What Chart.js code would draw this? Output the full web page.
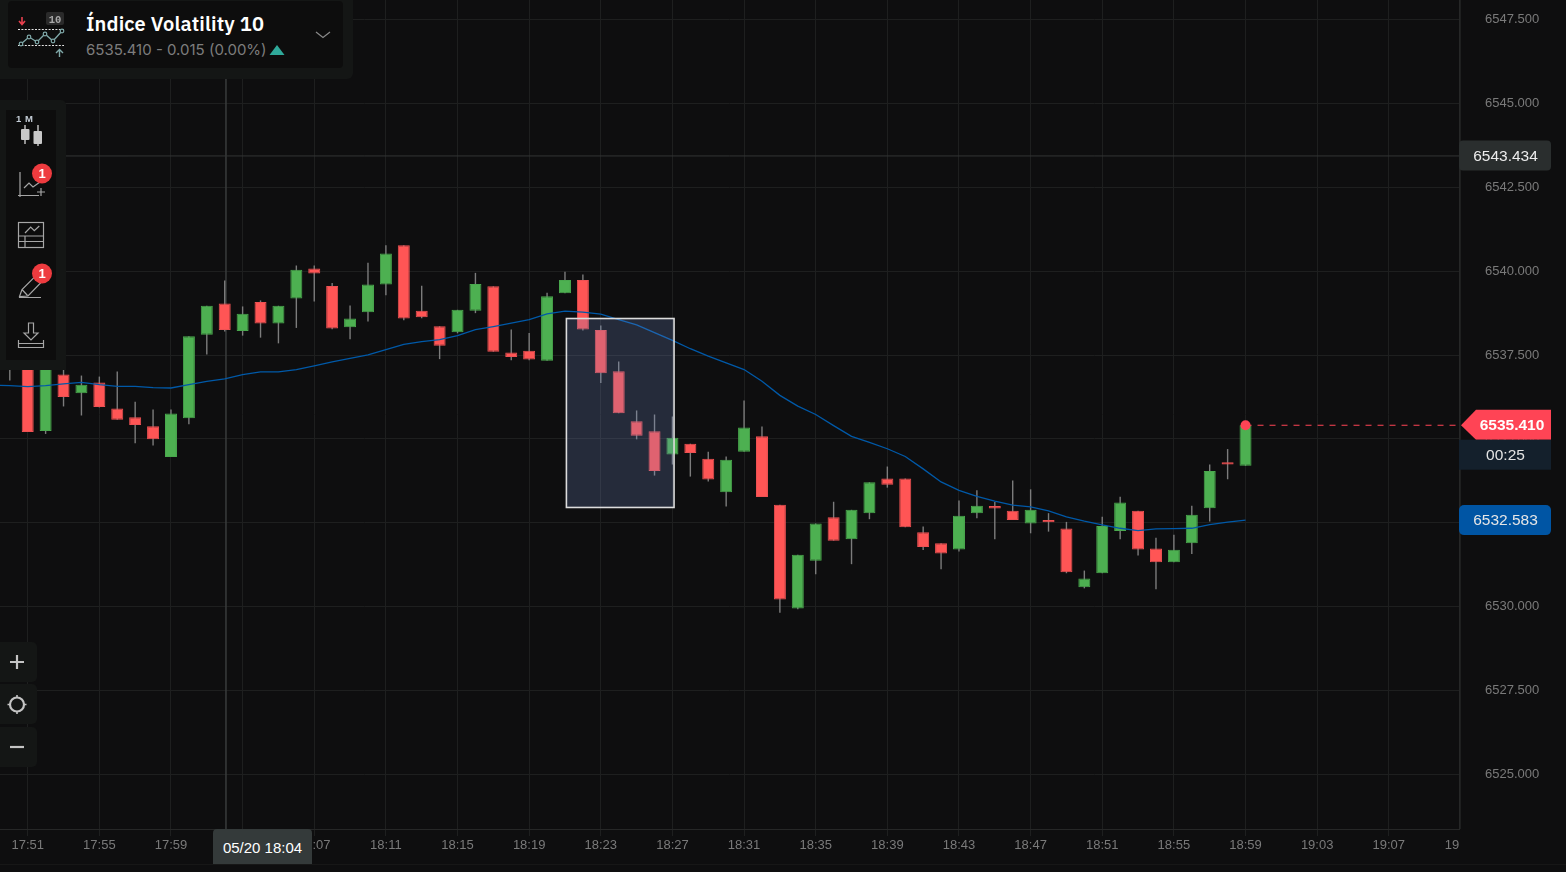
<!DOCTYPE html>
<html>
<head>
<meta charset="utf-8">
<title>Índice Volatility 10</title>
<script src="https://cdn.jsdelivr.net/npm/chart.js@4"></script>
<style>
  html, body { margin: 0; padding: 0; background: #0e0e0f; width: 1566px; height: 872px; overflow: hidden; }
  canvas { position: absolute; left: 0; top: 0; }
  .panel { position: absolute; background: #141615; }
  .inner { position: absolute; background: #0d0d0d; }
  .btn { position: absolute; left: 0; width: 37px; height: 40px; background: #141615; border-radius: 0 5px 5px 0; }
  #title { position: absolute; left: 86px; top: 10px; font: 600 20px "IBM Plex Sans", Roboto, sans-serif; letter-spacing: 0.15px; color: #fff; white-space: nowrap; }
  #sub { position: absolute; left: 86px; top: 40px; font: 400 15px Inter, sans-serif; color: #7d7d7d; white-space: nowrap; }
  #timeTag { position: absolute; left: 213px; top: 829px; width: 99px; height: 35px; background: #343a3a; border-radius: 4px 4px 0 0;
    font: 15px "Liberation Sans", sans-serif; color: #fff; text-align: center; line-height: 38px; }
  #footLine { position: absolute; left: 0; top: 864px; width: 1566px; height: 1px; background: #171717; }
  svg { position: absolute; left: 0; top: 0; }
</style>
</head>
<body>
<canvas id="volChart" width="1566" height="872"></canvas>
<div id="footLine"></div>
<div id="timeTag">05/20 18:04</div>

<div class="panel" style="left:0;top:0;width:353px;height:79px;border-radius:0 0 6px 0"></div>
<div class="inner" style="left:8px;top:1px;width:335px;height:67px;border-radius:4px"></div>
<div id="title">Índice Volatility 10</div>
<div id="sub">6535.410 - 0.015 (0.00%)</div>

<div class="panel" style="left:0;top:100px;width:66px;height:270px;border-radius:0 5px 0 0"></div>
<div class="inner" style="left:6px;top:110px;width:50px;height:250px"></div>

<div class="btn" style="top:642px"></div>
<div class="btn" style="top:684px"></div>
<div class="btn" style="top:727px"></div>

<svg width="1566" height="872" fill="none">
  <!-- header icon -->
  <path d="M22 17v7M19 21l3 3.5 3-3.5" stroke="#e8404e" stroke-width="1.6"/>
  <rect x="46" y="12" width="18" height="13" rx="2" fill="#2a2a2a"/>
  <text x="55" y="22.5" font-family="Liberation Mono, monospace" font-size="10.5" font-weight="700" fill="#a8a8a8" text-anchor="middle">10</text>
  <path d="M18 29.5h46M18 45.5h46" stroke="#e4e4e4" stroke-width="1" stroke-dasharray="2 1.4"/>
  <path d="M21 44l8-7 8 5 8-8 8 7 9-10" stroke="#7fa8a8" stroke-width="1.3"/>
  <g fill="#0d0d0d" stroke="#7fa8a8" stroke-width="1.2">
    <circle cx="21" cy="44" r="1.8"/><circle cx="29" cy="37" r="1.8"/><circle cx="37" cy="42" r="1.8"/>
    <circle cx="45" cy="34" r="1.8"/><circle cx="53" cy="41" r="1.8"/><circle cx="62" cy="31" r="1.8"/>
  </g>
  <path d="M59.5 57v-7M56 53l3.5-3.5 3.5 3.5" stroke="#7fa8a8" stroke-width="1.4"/>
  <path d="M269.500 55l7.500-10 7.500 10z" fill="#2fa99a"/>
  <path d="M316 32l7 5.500 7-5.500" stroke="#8a8a8a" stroke-width="1.2"/>

  <!-- toolbar icons -->
  <text x="16" y="121.500" font-family="Liberation Sans, sans-serif" font-size="9.500" font-weight="700" letter-spacing="0.6" fill="#c4cdd6">1 M</text>
  <path d="M25 125v19M38 125v21" stroke="#bdbdbd" stroke-width="1.5"/>
  <rect x="21" y="129" width="8.500" height="11" rx="1" fill="#c8c8c8"/>
  <rect x="33.500" y="131" width="8.500" height="13" rx="1" fill="#c8c8c8"/>

  <g stroke="#a6a6a6" stroke-width="1.2">
    <path d="M20 172v25M18 195.500h21M24 188l5-5 4 4 7-5M41 188v8M37 192h8"/>
    <rect x="18.500" y="222.500" width="25" height="25"/>
    <path d="M18.500 236h25M18.500 241.500h25M25 236v11.500M25 233l5.700-6 3.600 3.700 5-4.700"/>
    <path d="M19 297.500h22M19.500 296.500l2.500-7 15-15 6 6-15 15.500zM22 289.500l5.500 6"/>
    <path d="M28.500 323h5v10h4.500l-7 7-7-7h4.500zM18.500 340v7.500h25v-7.500M18.500 343.500h25"/>
  </g>
  <circle cx="42" cy="173.500" r="10" fill="#ee3b3f"/>
  <circle cx="42" cy="273.500" r="10" fill="#ee3b3f"/>
  <text x="42" y="178" font-family="Liberation Sans, sans-serif" font-size="13" font-weight="700" fill="#fff" text-anchor="middle">1</text>
  <text x="42" y="278" font-family="Liberation Sans, sans-serif" font-size="13" font-weight="700" fill="#fff" text-anchor="middle">1</text>

  <!-- zoom buttons -->
  <path d="M10 662h14M17 655v14" stroke="#c4c4c4" stroke-width="2.200"/>
  <circle cx="17" cy="704.500" r="7" stroke="#c4c4c4" stroke-width="2.200"/>
  <path d="M17 695v3M17 711v3M7.500 704.500h3M23.500 704.500h3" stroke="#c4c4c4" stroke-width="1.600"/>
  <path d="M10 747h14" stroke="#c4c4c4" stroke-width="2.200"/>
</svg>

<script>
// minutes counted from 17:50, one candle per minute
const opens = [6537.79,6537.58,6535.24,6536.92,6536.36,6536.68,6535.91,6535.65,6535.38,6534.46,6535.62,6538.11,6539.04,6538.22,6539.08,6538.44,6539.19,6540.08,6539.56,6538.33,6538.78,6539.60,6540.77,6538.82,6538.36,6538.18,6538.82,6539.55,6537.58,6537.63,6537.33,6539.34,6539.74,6538.25,6537.02,6535.53,6535.23,6534.54,6534.86,6534.41,6533.41,6534.62,6535.08,6533.04,6529.95,6531.37,6532.67,6532.01,6532.79,6533.82,6533.82,6532.22,6531.89,6531.71,6532.79,6533.00,6532.86,6532.48,6532.59,6532.33,6530.58,6531.00,6532.26,6532.86,6531.74,6531.33,6531.89,6532.94,6534.31,6534.20];
const highs = [6537.94,6537.64,6537.40,6537.10,6536.89,6536.86,6537.01,6536.11,6535.88,6535.88,6538.06,6538.97,6539.72,6538.95,6539.13,6538.97,6540.17,6540.17,6539.65,6538.98,6540.25,6540.77,6540.77,6539.57,6538.36,6538.85,6539.95,6539.55,6538.26,6538.16,6539.36,6539.98,6539.90,6538.38,6537.31,6535.85,6535.73,6535.67,6534.86,6534.62,6534.48,6536.15,6535.37,6533.04,6531.55,6532.48,6533.13,6532.89,6533.71,6534.18,6533.82,6532.39,6531.89,6533.17,6533.47,6533.12,6533.76,6533.50,6532.79,6532.53,6531.08,6532.68,6533.28,6532.86,6532.06,6532.15,6533.01,6534.24,6534.70,6535.41];
const lows = [6536.74,6535.21,6535.15,6535.97,6535.70,6535.94,6535.57,6534.87,6534.81,6534.46,6535.44,6537.52,6538.20,6538.08,6538.02,6537.85,6538.31,6539.10,6538.27,6537.97,6538.50,6539.28,6538.54,6538.60,6537.38,6538.15,6538.75,6537.60,6537.35,6537.35,6537.33,6539.34,6538.23,6536.67,6535.77,6534.99,6533.91,6534.24,6533.88,6533.73,6532.99,6534.62,6533.27,6529.82,6529.93,6530.97,6531.97,6531.27,6532.61,6533.55,6532.37,6531.69,6531.12,6531.65,6532.64,6532.01,6532.59,6532.19,6532.24,6531.00,6530.55,6531.00,6532.01,6531.53,6530.52,6531.33,6531.57,6532.54,6533.80,6534.20];
const closes = [6537.28,6535.21,6537.28,6536.25,6536.62,6535.95,6535.57,6535.42,6534.99,6535.76,6538.06,6538.97,6538.25,6538.73,6538.44,6538.97,6540.04,6539.93,6538.29,6538.59,6539.60,6540.53,6538.59,6538.63,6537.78,6538.85,6539.62,6537.60,6537.44,6537.37,6539.25,6539.74,6538.26,6536.96,6535.77,6535.10,6534.05,6535.04,6534.58,6533.79,6534.38,6535.34,6533.27,6530.22,6531.55,6532.48,6531.97,6532.89,6533.71,6533.64,6532.37,6531.78,6531.59,6532.71,6533.01,6532.93,6532.59,6532.89,6532.52,6531.03,6530.84,6532.41,6533.11,6531.71,6531.33,6531.70,6532.74,6534.05,6534.24,6535.41];
const maValues = [6536.59,6536.56,6536.59,6536.64,6536.69,6536.62,6536.57,6536.57,6536.53,6536.52,6536.62,6536.72,6536.79,6536.92,6537.00,6537.00,6537.07,6537.18,6537.30,6537.40,6537.51,6537.66,6537.82,6537.90,6537.96,6538.08,6538.26,6538.35,6538.45,6538.56,6538.73,6538.81,6538.78,6538.72,6538.56,6538.40,6538.17,6537.94,6537.69,6537.47,6537.27,6537.07,6536.72,6536.30,6535.98,6535.73,6535.40,6535.08,6534.90,6534.71,6534.48,6534.11,6533.72,6533.47,6533.29,6533.15,6533.03,6532.98,6532.86,6532.68,6532.55,6532.44,6532.34,6532.27,6532.32,6532.33,6532.34,6532.45,6532.52,6532.583];
// the average at 17:49, just off the left edge
const maBefore = 6536.60;

const tickLabels = ["17:51","17:55","17:59","18:03","18:07","18:11","18:15","18:19","18:23","18:27","18:31","18:35","18:39","18:43","18:47","18:51","18:55","18:59","19:03","19:07","19:11"];
const tickIndex = [1,5,9,13,17,21,25,29,33,37,41,45,49,53,57,61,65,69,73,77,81];
const yTicks = [6525,6527.5,6530,6532.5,6535,6537.5,6540,6542.5,6545,6547.5];

const xMin = -0.547, xMax = 80.92;
const yMin = 6523.379, yMax = 6548.081;

const lastPrice = 6535.410;
const maLast = 6532.583;
const crossPrice = 6543.434;
const crossIndex = 12.07;
const boxX = [31.08, 37.09];
const boxY = [6532.96, 6538.59];

const green = "#4db051", red = "#ff5555";
const isUp = i => closes[i] >= opens[i];

const wicks = highs.map((h, i) => ({ x: i, y: [lows[i], h] }));
const bodies = opens.map((o, i) => ({ x: i, y: [o, closes[i]] }));
const maLine = [{ x: -1, y: maBefore }].concat(maValues.map((v, i) => ({ x: i, y: v })));

// covers the end of the 19:11 label and draws the box and the price tags
const overlays = {
  id: "overlays",
  beforeDatasetsDraw(chart) {
    const c = chart.ctx;
    c.fillStyle = "#0e0e0f";
    c.fillRect(chart.chartArea.right + 0.5, chart.chartArea.bottom + 1, 120, 34);
  },
  afterDatasetsDraw(chart) {
    const c = chart.ctx, x = chart.scales.x, y = chart.scales.y;
    const l = x.getPixelForValue(boxX[0]), r = x.getPixelForValue(boxX[1]);
    const t = y.getPixelForValue(boxY[1]), b = y.getPixelForValue(boxY[0]);
    c.save();
    c.fillStyle = "rgba(118,143,205,0.23)";
    c.fillRect(l, t, r - l, b - t);
    c.strokeStyle = "#dcdcdc";
    c.lineWidth = 1.6;
    c.strokeRect(l, t, r - l, b - t);
    c.restore();
  },
  afterDraw(chart) {
    const c = chart.ctx, y = chart.scales.y, left = chart.chartArea.right, right = 1551;
    const lastY = y.getPixelForValue(lastPrice);
    c.save();
    c.textAlign = "center";
    c.textBaseline = "middle";

    c.fillStyle = "#2a2e2e";
    c.beginPath();
    c.roundRect(left, y.getPixelForValue(crossPrice) - 15.5, right - left, 30, 4);
    c.fill();
    c.fillStyle = "#ececec";
    c.font = "15.5px 'Liberation Sans', sans-serif";
    c.fillText(crossPrice.toFixed(3), 1505.5, y.getPixelForValue(crossPrice) + 0.5);

    c.fillStyle = "#ff4455";
    c.beginPath();
    c.moveTo(1461, lastY);
    c.lineTo(1476, lastY - 15.5);
    c.lineTo(right, lastY - 15.5);
    c.lineTo(right, lastY + 14.5);
    c.lineTo(1476, lastY + 14.5);
    c.closePath();
    c.fill();
    c.fillStyle = "#fff";
    c.font = "bold 15.5px 'Liberation Sans', sans-serif";
    c.fillText(lastPrice.toFixed(3), 1512, lastY + 0.5);

    c.fillStyle = "#14202c";
    c.fillRect(left, lastY + 14.5, right - left, 30);
    c.fillStyle = "#e4e4e4";
    c.font = "15.5px 'Liberation Sans', sans-serif";
    c.fillText("00:25", 1505.5, lastY + 30);

    const maY = y.getPixelForValue(maLast);
    c.fillStyle = "#0055a4";
    c.beginPath();
    c.roundRect(left, maY - 15, right - left, 30, 5);
    c.fill();
    c.fillStyle = "#e6e6e6";
    c.fillText(maLast.toFixed(3), 1505.5, maY + 0.5);
    c.restore();
  }
};

new Chart(document.getElementById("volChart"), {
  type: "bar",
  data: {
    datasets: [
      {
        type: "line", order: 5, data: [{ x: xMin, y: crossPrice }, { x: xMax, y: crossPrice }],
        borderColor: "#333535", borderWidth: 1, pointRadius: 0
      },
      {
        type: "line", order: 5, data: [{ x: crossIndex, y: yMin }, { x: crossIndex, y: yMax }],
        borderColor: "#393c3c", borderWidth: 1.5, pointRadius: 0
      },
      {
        order: 4, data: wicks, grouped: false, maxBarThickness: 1.4,
        backgroundColor: "#7c7c7c", borderWidth: 0, borderSkipped: false
      },
      {
        order: 3, data: bodies, grouped: false, maxBarThickness: 12,
        backgroundColor: ctx => isUp(ctx.dataIndex) ? green : red,
        borderColor: ctx => isUp(ctx.dataIndex) ? "#49a84d" : "#ee5153",
        borderWidth: 1, borderSkipped: false
      },
      {
        type: "line", order: 2, data: maLine,
        borderColor: "#0059a8", borderWidth: 1.3, pointRadius: 0, tension: 0
      },
      {
        type: "line", order: 1, data: [{ x: 69, y: lastPrice }, { x: xMax, y: lastPrice }],
        borderColor: "#ff4455", borderWidth: 1.2, borderDash: [6, 6], pointRadius: [5, 0],
        pointBackgroundColor: "#ff4455", pointBorderWidth: 0
      }
    ]
  },
  options: {
    responsive: false,
    animation: false,
    devicePixelRatio: 1,
    events: [],
    layout: { padding: 0, autoPadding: false },
    plugins: { legend: { display: false }, tooltip: { enabled: false } },
    scales: {
      x: {
        type: "linear", min: xMin, max: xMax, offset: false,
        grid: { offset: false, color: "#1e1f1f", tickColor: "#1e1f1f", tickLength: 7, lineWidth: 1 },
        border: { color: "#262727" },
        afterBuildTicks: s => { s.ticks = tickIndex.map(v => ({ value: v })); },
        afterFit: s => { s.height = 43; s.paddingLeft = 0; s.paddingRight = 0; },
        ticks: {
          autoSkip: false, maxRotation: 0, padding: 2, color: "#7a7a7a",
          font: { family: "'Liberation Sans', sans-serif", size: 13 },
          callback: (v, i) => tickLabels[i]
        }
      },
      y: {
        type: "linear", position: "right", min: yMin, max: yMax,
        grid: { color: "#1e1f1f", drawTicks: false, lineWidth: 1 },
        border: { color: "#262727" },
        afterBuildTicks: s => { s.ticks = yTicks.map(v => ({ value: v })); },
        afterFit: s => { s.width = 107; s.paddingTop = 0; s.paddingBottom = 0; },
        ticks: {
          padding: 26, color: "#7a7a7a",
          font: { family: "'Liberation Sans', sans-serif", size: 13 },
          callback: v => v.toFixed(3)
        }
      }
    }
  },
  plugins: [overlays]
});
</script>
</body>
</html>
